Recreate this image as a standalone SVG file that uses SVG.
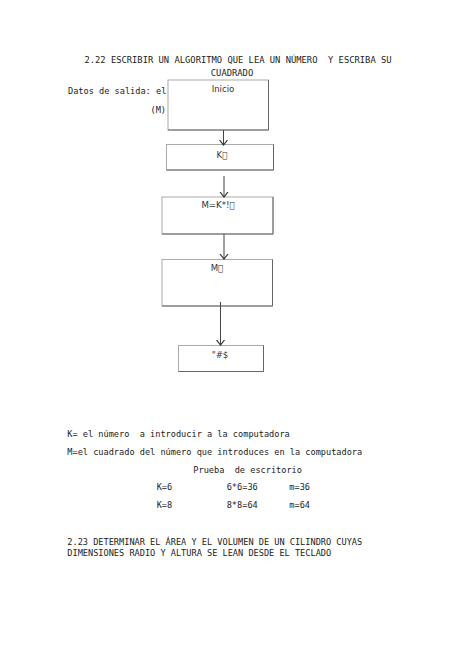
<svg xmlns="http://www.w3.org/2000/svg" width="474" height="670" viewBox="0 0 474 670">
<style>
text{white-space:pre}
.t{font-family:"DejaVu Sans Mono","Liberation Mono",monospace;font-size:8.6px;fill:#222}
.h{font-family:"DejaVu Sans Mono","Liberation Mono",monospace;font-size:8.8px;fill:#222}
.b{font-family:"DejaVu Sans","Liberation Sans",sans-serif;font-size:8.6px;fill:#333;text-anchor:middle}
.box{fill:#fff;stroke:#aaa;stroke-width:1}
.sh{fill:none;stroke:#666;stroke-width:1}
.c{stroke:#444;stroke-width:1;fill:none}
</style>
<defs>
<marker id="ah" markerWidth="8" markerHeight="10" refX="5" refY="4" orient="auto" markerUnits="userSpaceOnUse" viewBox="0 0 8 8">
<path d="M0,0 L5,4 L0,8" fill="none" stroke="#333" stroke-width="1.2"/>
</marker>
</defs>
<rect width="474" height="670" fill="#fff"/>
<g id="title">
<text class="h" x="238" y="63" text-anchor="middle">2.22 ESCRIBIR UN ALGORITMO QUE LEA UN NÚMERO  Y ESCRIBA SU</text>
<text class="h" x="232" y="75.5" text-anchor="middle">CUADRADO</text>
</g>
<g id="salida">
<text class="t" x="68" y="94">Datos de salida: el</text>
<text class="t" x="166" y="113" text-anchor="end">(M)</text>
</g>
<g id="inicio">
<rect class="box" x="168" y="80" width="100.5" height="50"/>
<path class="sh" d="M168,130 H268.5 V80"/>
<text class="b" x="223" y="92">Inicio</text>
</g>
<g id="leer">
<rect class="box" x="166.5" y="144.5" width="107" height="25.5"/>
<path class="sh" d="M166.5,170 H273.5 V144.5"/>
<text class="b" x="222" y="158">K&#xF0AC;</text>
</g>
<g id="calc">
<rect class="box" x="162" y="197" width="111" height="37"/>
<path class="sh" d="M162,234 H273 V197"/>
<text class="b" x="218" y="208">M=K*!&#xF0AC;</text>
</g>
<g id="mostrar">
<rect class="box" x="162" y="259.5" width="110.5" height="46.5"/>
<path class="sh" d="M162,306 H272.5 V259.5"/>
<text class="b" x="217" y="271">M&#xF0AC;</text>
</g>
<g id="fin">
<rect class="box" x="178.5" y="345.5" width="85" height="26"/>
<path class="sh" d="M178.5,371.5 H263.5 V345.5"/>
<text class="b" x="220" y="358">"#$</text>
</g>
<g id="connectors">
<line class="c" x1="223.5" y1="130" x2="223.5" y2="145" marker-end="url(#ah)"/>
<line class="c" x1="224" y1="176" x2="224" y2="197" marker-end="url(#ah)"/>
<line class="c" x1="224" y1="234" x2="224" y2="259" marker-end="url(#ah)"/>
<line class="c" x1="220.5" y1="302" x2="220.5" y2="345" marker-end="url(#ah)"/>
</g>
<g id="texto">
<text class="t" x="67.3" y="437">K= el número  a introducir a la computadora</text>
<text class="t" x="67.3" y="455">M=el cuadrado del número que introduces en la computadora</text>
<text class="t" x="193.3" y="473">Prueba  de escritorio</text>
<text class="t" x="156.7" y="490">K=6</text>
<text class="t" x="226.7" y="490">6*6=36</text>
<text class="t" x="289.3" y="490">m=36</text>
<text class="t" x="156.7" y="507.5">K=8</text>
<text class="t" x="226.7" y="507.5">8*8=64</text>
<text class="t" x="289.3" y="507.5">m=64</text>
<text class="t" x="67.3" y="545">2.23 DETERMINAR EL ÁREA Y EL VOLUMEN DE UN CILINDRO CUYAS</text>
<text class="t" x="67.3" y="555.5">DIMENSIONES RADIO Y ALTURA SE LEAN DESDE EL TECLADO</text>
</g>
</svg>
